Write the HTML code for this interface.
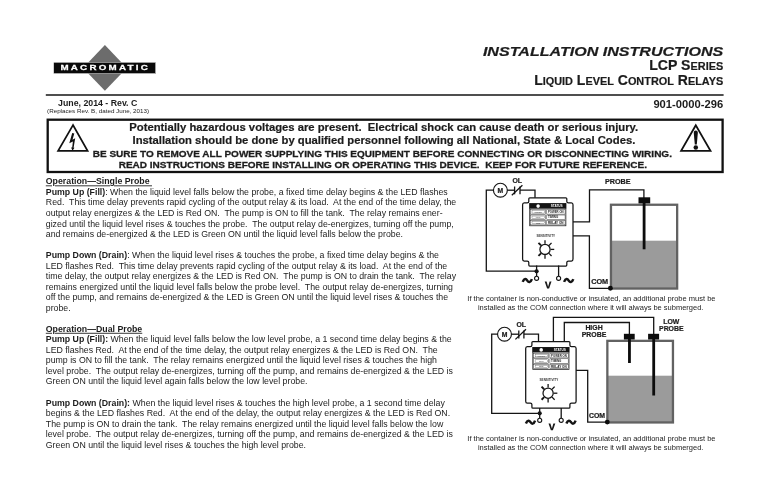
<!DOCTYPE html>
<html><head><meta charset="utf-8"><title>LCP Series Installation Instructions</title>
<style>
html,body{margin:0;padding:0;background:#fff;}
body{width:768px;height:497px;overflow:hidden;}
svg text{white-space:pre;}
svg{display:block;font-family:"Liberation Sans",sans-serif;filter:grayscale(1) blur(0.35px);}
</style></head><body>
<svg width="768" height="497" viewBox="0 0 768 497">
<rect x="0" y="0" width="768" height="497" fill="#fff"/>
<polygon points="104.9,45 126.8,67.9 104.9,90.8 83,67.9" fill="#6c6c6c"/>
<rect x="53.7" y="62.3" width="102" height="11.3" fill="#0a0a0a" stroke="#eee" stroke-width="0.5"/>
<g transform="translate(105.2,70.4) scale(1.286,1)"><text x="0" y="0" font-size="7.6" font-weight="bold" text-anchor="middle" fill="#fff" stroke="#fff" stroke-width="0.25" letter-spacing="1.75">MACROMATIC</text></g>
<rect x="45.8" y="94.1" width="677.8" height="1.8" fill="#3c3c3c"/>
<text x="723.2" y="56.0" font-size="12.7" font-weight="bold" text-anchor="end" fill="#1c1c1c" font-style="italic" textLength="240.3" lengthAdjust="spacingAndGlyphs" stroke="#1c1c1c" stroke-width="0.2">INSTALLATION INSTRUCTIONS</text>
<text x="723.2" y="70.0" font-size="14.1" font-weight="bold" text-anchor="end" fill="#1c1c1c" stroke="#1c1c1c" stroke-width="0.2">LCP S<tspan font-size="10.9">ERIES</tspan></text>
<text x="723.2" y="85.3" font-size="14.0" font-weight="bold" text-anchor="end" fill="#1c1c1c" stroke="#1c1c1c" stroke-width="0.2">L<tspan font-size="10.9">IQUID</tspan> L<tspan font-size="10.9">EVEL</tspan> C<tspan font-size="10.9">ONTROL</tspan> R<tspan font-size="10.9">ELAYS</tspan></text>
<text x="723.2" y="108.0" font-size="10.3" font-weight="bold" text-anchor="end" fill="#1c1c1c" textLength="69.8" lengthAdjust="spacingAndGlyphs" >901-0000-296</text>
<text x="97.7" y="106.45" font-size="8.78" font-weight="bold" text-anchor="middle" fill="#1c1c1c" >June, 2014 - Rev. C</text>
<text x="98.1" y="113.35" font-size="6.25" font-weight="normal" text-anchor="middle" fill="#1c1c1c" >(Replaces Rev. B, dated June, 2013)</text>
<rect x="47.7" y="119.7" width="674.9" height="52.3" fill="none" stroke="#111" stroke-width="2.3"/>
<polygon points="73.0,125.1 58.1,150.9 87.6,150.9" fill="none" stroke="#111" stroke-width="1.75" stroke-linejoin="miter"/>
<polygon points="72.2,132.9 74.3,133.5 72.5,139.8 75.2,138.2 73.6,147.7 74.5,147.8 72.5,150.7 71.1,147.4 72.2,147.6 72.9,141.5 69.3,143.2" fill="#111"/>
<polygon points="695.8,125.2 681.1,150.9 710.5,150.9" fill="none" stroke="#111" stroke-width="1.8"/>
<path d="M693.75,132.8 Q693.75,130.5 695.8,130.5 Q697.85,130.5 697.85,132.8 L696.8,144.4 L694.8,144.4 Z" fill="#111"/>
<circle cx="695.8" cy="147.5" r="2.25" fill="#111"/>
<text x="383.7" y="131.2" font-size="11.0" font-weight="bold" text-anchor="middle" fill="#1c1c1c" textLength="508.8" lengthAdjust="spacingAndGlyphs" xml:space="preserve" stroke="#1c1c1c" stroke-width="0.2">Potentially hazardous voltages are present.  Electrical shock can cause death or serious injury.</text>
<text x="383.9" y="143.7" font-size="11.0" font-weight="bold" text-anchor="middle" fill="#1c1c1c" textLength="502.8" lengthAdjust="spacingAndGlyphs" stroke="#1c1c1c" stroke-width="0.2">Installation should be done by qualified personnel following all National, State &amp; Local Codes.</text>
<text x="382.35" y="157.0" font-size="9.7" font-weight="bold" text-anchor="middle" fill="#1c1c1c" textLength="579.2" lengthAdjust="spacingAndGlyphs" stroke="#1c1c1c" stroke-width="0.28">BE SURE TO REMOVE ALL POWER SUPPLYING THIS EQUIPMENT BEFORE CONNECTING OR DISCONNECTING WIRING.</text>
<text x="382.85" y="167.9" font-size="9.7" font-weight="bold" text-anchor="middle" fill="#1c1c1c" textLength="528.4" lengthAdjust="spacingAndGlyphs" xml:space="preserve" stroke="#1c1c1c" stroke-width="0.28">READ INSTRUCTIONS BEFORE INSTALLING OR OPERATING THIS DEVICE.  KEEP FOR FUTURE REFERENCE.</text>
<text x="45.8" y="184.4" font-size="8.77" font-weight="normal" text-anchor="start" fill="#1c1c1c" xml:space="preserve"><tspan font-weight="bold" text-decoration="underline">Operation—Single Probe </tspan></text>
<text x="45.8" y="194.93" font-size="8.77" font-weight="normal" text-anchor="start" fill="#1c1c1c" xml:space="preserve"><tspan font-weight="bold">Pump Up (Fill)</tspan>: When the liquid level falls below the probe, a fixed time delay begins &amp; the LED flashes</text>
<text x="45.8" y="205.46" font-size="8.77" font-weight="normal" text-anchor="start" fill="#1c1c1c" xml:space="preserve">Red.  This time delay prevents rapid cycling of the output relay &amp; its load.  At the end of the time delay, the</text>
<text x="45.8" y="215.99" font-size="8.77" font-weight="normal" text-anchor="start" fill="#1c1c1c" xml:space="preserve">output relay energizes &amp; the LED is Red ON.  The pump is ON to fill the tank.  The relay remains ener-</text>
<text x="45.8" y="226.52" font-size="8.77" font-weight="normal" text-anchor="start" fill="#1c1c1c" xml:space="preserve">gized until the liquid level rises &amp; touches the probe.  The output relay de-energizes, turning off the pump,</text>
<text x="45.8" y="237.05" font-size="8.77" font-weight="normal" text-anchor="start" fill="#1c1c1c" xml:space="preserve">and remains de-energized &amp; the LED is Green ON until the liquid level falls below the probe.</text>
<text x="45.8" y="258.11" font-size="8.77" font-weight="normal" text-anchor="start" fill="#1c1c1c" xml:space="preserve"><tspan font-weight="bold">Pump Down (Drain)</tspan>: When the liquid level rises &amp; touches the probe, a fixed time delay begins &amp; the</text>
<text x="45.8" y="268.64" font-size="8.77" font-weight="normal" text-anchor="start" fill="#1c1c1c" xml:space="preserve">LED flashes Red.  This time delay prevents rapid cycling of the output relay &amp; its load.  At the end of the</text>
<text x="45.8" y="279.17" font-size="8.77" font-weight="normal" text-anchor="start" fill="#1c1c1c" xml:space="preserve">time delay, the output relay energizes &amp; the LED is Red ON.  The pump is ON to drain the tank.  The relay</text>
<text x="45.8" y="289.7" font-size="8.77" font-weight="normal" text-anchor="start" fill="#1c1c1c" xml:space="preserve">remains energized until the liquid level falls below the probe level.  The output relay de-energizes, turning</text>
<text x="45.8" y="300.23" font-size="8.77" font-weight="normal" text-anchor="start" fill="#1c1c1c" xml:space="preserve">off the pump, and remains de-energized &amp; the LED is Green ON until the liquid level rises &amp; touches the</text>
<text x="45.8" y="310.76" font-size="8.77" font-weight="normal" text-anchor="start" fill="#1c1c1c" xml:space="preserve">probe.</text>
<text x="45.8" y="331.82" font-size="8.77" font-weight="normal" text-anchor="start" fill="#1c1c1c" xml:space="preserve"><tspan font-weight="bold" text-decoration="underline">Operation—Dual Probe</tspan></text>
<text x="45.8" y="342.35" font-size="8.77" font-weight="normal" text-anchor="start" fill="#1c1c1c" xml:space="preserve"><tspan font-weight="bold">Pump Up (Fill):</tspan> When the liquid level falls below the low level probe, a 1 second time delay begins &amp; the</text>
<text x="45.8" y="352.88" font-size="8.77" font-weight="normal" text-anchor="start" fill="#1c1c1c" xml:space="preserve">LED flashes Red.  At the end of the time delay, the output relay energizes &amp; the LED is Red ON.  The</text>
<text x="45.8" y="363.41" font-size="8.77" font-weight="normal" text-anchor="start" fill="#1c1c1c" xml:space="preserve">pump is ON to fill the tank.  The relay remains energized until the liquid level rises &amp; touches the high</text>
<text x="45.8" y="373.94" font-size="8.77" font-weight="normal" text-anchor="start" fill="#1c1c1c" xml:space="preserve">level probe.  The output relay de-energizes, turning off the pump, and remains de-energized &amp; the LED is</text>
<text x="45.8" y="384.47" font-size="8.77" font-weight="normal" text-anchor="start" fill="#1c1c1c" xml:space="preserve">Green ON until the liquid level again falls below the low level probe.</text>
<text x="45.8" y="405.53" font-size="8.77" font-weight="normal" text-anchor="start" fill="#1c1c1c" xml:space="preserve"><tspan font-weight="bold">Pump Down (Drain):</tspan> When the liquid level rises &amp; touches the high level probe, a 1 second time delay</text>
<text x="45.8" y="416.06" font-size="8.77" font-weight="normal" text-anchor="start" fill="#1c1c1c" xml:space="preserve">begins &amp; the LED flashes Red.  At the end of the delay, the output relay energizes &amp; the LED is Red ON.</text>
<text x="45.8" y="426.59" font-size="8.77" font-weight="normal" text-anchor="start" fill="#1c1c1c" xml:space="preserve">The pump is ON to drain the tank.  The relay remains energized until the liquid level falls below the low</text>
<text x="45.8" y="437.12" font-size="8.77" font-weight="normal" text-anchor="start" fill="#1c1c1c" xml:space="preserve">level probe.  The output relay de-energizes, turning off the pump, and remains de-energized &amp; the LED is</text>
<text x="45.8" y="447.65" font-size="8.77" font-weight="normal" text-anchor="start" fill="#1c1c1c" xml:space="preserve">Green ON until the liquid level rises &amp; touches the high level probe.</text>
<text x="591.4" y="301.45" font-size="7.55" font-weight="normal" text-anchor="middle" fill="#1c1c1c" textLength="248.2" lengthAdjust="spacingAndGlyphs" >If the container is non-conductive or insulated, an additional probe must be</text>
<text x="590.65" y="310.35" font-size="7.55" font-weight="normal" text-anchor="middle" fill="#1c1c1c" textLength="225.5" lengthAdjust="spacingAndGlyphs" >installed as the COM connection where it will always be submerged.</text>
<text x="591.4" y="441.45" font-size="7.55" font-weight="normal" text-anchor="middle" fill="#1c1c1c" textLength="248.2" lengthAdjust="spacingAndGlyphs" >If the container is non-conductive or insulated, an additional probe must be</text>
<text x="590.65" y="450.35" font-size="7.55" font-weight="normal" text-anchor="middle" fill="#1c1c1c" textLength="225.5" lengthAdjust="spacingAndGlyphs" >installed as the COM connection where it will always be submerged.</text>
<polyline points="494,190.2 486.3,190.2 486.3,271.2 536.6,271.2" fill="none" stroke="#141414" stroke-width="1.3"/>
<polyline points="507,190.2 514.6,190.2" fill="none" stroke="#141414" stroke-width="1.3"/>
<polyline points="520,190.2 535,190.2 535,198" fill="none" stroke="#141414" stroke-width="1.3"/>
<line x1="514.6" y1="186.5" x2="514.6" y2="194.3" fill="none" stroke="#141414" stroke-width="1.3"/><line x1="520" y1="186.5" x2="520" y2="194.3" fill="none" stroke="#141414" stroke-width="1.3"/>
<line x1="522.4" y1="185.3" x2="511.8" y2="195.3" fill="none" stroke="#141414" stroke-width="1.3"/>
<text x="517.3" y="182.9" font-size="6.9" font-weight="bold" text-anchor="middle" fill="#1c1c1c" stroke="#1c1c1c" stroke-width="0.22">OL</text>
<circle cx="500.4" cy="190.2" r="6.95" fill="#fff" stroke="#141414" stroke-width="1.15"/>
<text x="500.4" y="192.65" font-size="6.8" font-weight="bold" text-anchor="middle" fill="#1c1c1c" stroke="#1c1c1c" stroke-width="0.22">M</text>
<polyline points="573,221.9 589.5,221.9 589.5,189.9 643.9,189.9 643.9,198" fill="none" stroke="#141414" stroke-width="1.3"/>
<polyline points="573,235.9 589.4,235.9 589.4,288.3 610.5,288.3" fill="none" stroke="#141414" stroke-width="1.3"/>
<path d="M529.80,197.80 H565.80 Q566.80,197.80 566.80,198.80 V201.40 Q566.80,202.80 568.40,202.80 H571.40 Q573.00,202.80 573.00,204.80 V259.00 Q573.00,261.00 571.40,261.00 H568.40 Q566.80,261.00 566.80,262.40 V265.00 Q566.80,266.00 565.80,266.00 H529.80 Q528.80,266.00 528.80,265.00 V262.40 Q528.80,261.00 527.20,261.00 H524.20 Q522.60,261.00 522.60,259.00 V204.80 Q522.60,202.80 524.20,202.80 H527.20 Q528.80,202.80 528.80,201.40 V198.80 Q528.80,197.80 529.80,197.80 Z" fill="#fff" stroke="#141414" stroke-width="1.25"/>
<rect x="529.7" y="203.6" width="36.2" height="22.2" fill="#fff" stroke="#141414" stroke-width="0.7"/>
<rect x="529.4" y="203.3" width="36.800000000000004" height="5.4" fill="#141414"/>
<circle cx="538.1" cy="206.1" r="1.8" fill="#fff"/>
<text x="562.7" y="207.3" font-size="3.0" font-weight="bold" text-anchor="end" fill="#fff" textLength="12" lengthAdjust="spacingAndGlyphs" >STATUS</text>
<rect x="530.6" y="209.6" width="15.0" height="4.5" fill="#fff" stroke="#1a1a1a" stroke-width="0.45"/>
<rect x="546.8" y="209.6" width="18.3" height="4.5" fill="#fff" stroke="#1a1a1a" stroke-width="0.45"/>
<rect x="532.0" y="210.65" width="12.2" height="2.4" fill="none" stroke="#2a2a2a" stroke-width="0.3"/>
<text x="538.1" y="212.7" font-size="2.1" font-weight="bold" text-anchor="middle" fill="#555" >GREEN</text>
<text x="548.0" y="212.9" font-size="2.8" font-weight="bold" text-anchor="start" fill="#1a1a1a" textLength="15.6" lengthAdjust="spacingAndGlyphs" >POWER ON</text>
<rect x="530.6" y="215.0" width="15.0" height="4.5" fill="#fff" stroke="#1a1a1a" stroke-width="0.45"/>
<rect x="546.8" y="215.0" width="18.3" height="4.5" fill="#fff" stroke="#1a1a1a" stroke-width="0.45"/>
<rect x="532.0" y="216.05" width="12.2" height="2.4" fill="none" stroke="#2a2a2a" stroke-width="0.3"/>
<text x="538.1" y="218.1" font-size="2.1" font-weight="bold" text-anchor="middle" fill="#555" >/\/\/\/\</text>
<text x="548.0" y="218.3" font-size="2.8" font-weight="bold" text-anchor="start" fill="#1a1a1a" textLength="10.2" lengthAdjust="spacingAndGlyphs" >TIMING</text>
<rect x="530.6" y="220.4" width="15.0" height="4.5" fill="#fff" stroke="#1a1a1a" stroke-width="0.45"/>
<rect x="546.8" y="220.4" width="18.3" height="4.5" fill="#fff" stroke="#1a1a1a" stroke-width="0.45"/>
<rect x="532.0" y="221.45" width="12.2" height="2.4" fill="none" stroke="#2a2a2a" stroke-width="0.3"/>
<text x="538.1" y="223.5" font-size="2.1" font-weight="bold" text-anchor="middle" fill="#555" >RED</text>
<text x="548.0" y="223.7" font-size="2.8" font-weight="bold" text-anchor="start" fill="#1a1a1a" textLength="15.6" lengthAdjust="spacingAndGlyphs" >RELAY ON</text>
<text x="545.8" y="237.2" font-size="2.7" font-weight="bold" text-anchor="middle" fill="#333" textLength="18.6" lengthAdjust="spacingAndGlyphs" >SENSITIVITY</text>
<circle cx="545.0" cy="249.4" r="5.1" fill="#fff" stroke="#141414" stroke-width="1.25"/>
<line x1="541.04" y1="245.44" x2="538.46" y2="242.86" stroke="#141414" stroke-width="1.9"/>
<line x1="545.00" y1="243.80" x2="545.00" y2="240.15" stroke="#141414" stroke-width="1.3"/>
<line x1="548.96" y1="245.44" x2="551.54" y2="242.86" stroke="#141414" stroke-width="1.3"/>
<line x1="550.60" y1="249.40" x2="554.25" y2="249.40" stroke="#141414" stroke-width="1.3"/>
<line x1="548.96" y1="253.36" x2="551.54" y2="255.94" stroke="#141414" stroke-width="1.3"/>
<line x1="545.00" y1="255.00" x2="545.00" y2="258.65" stroke="#141414" stroke-width="1.3"/>
<line x1="541.04" y1="253.36" x2="538.46" y2="255.94" stroke="#141414" stroke-width="1.9"/>
<line x1="536.6" y1="265.5" x2="536.6" y2="276.3" fill="none" stroke="#141414" stroke-width="1.3"/><line x1="558.6" y1="265.5" x2="558.6" y2="276.3" fill="none" stroke="#141414" stroke-width="1.3"/>
<circle cx="536.6" cy="271.3" r="2.1" fill="#141414"/>
<circle cx="536.6" cy="278.3" r="2.05" fill="#fff" stroke="#141414" stroke-width="1.1"/>
<circle cx="558.6" cy="278.3" r="2.05" fill="#fff" stroke="#141414" stroke-width="1.1"/>
<path d="M522.70,281.90 C524.30,278.00 526.10,278.70 527.30,280.60 S530.50,283.00 531.90,279.10" fill="none" stroke="#141414" stroke-width="2.5" stroke-linecap="butt"/>
<path d="M564.10,281.90 C565.70,278.00 567.50,278.70 568.70,280.60 S571.90,283.00 573.30,279.10" fill="none" stroke="#141414" stroke-width="2.5" stroke-linecap="butt"/>
<polygon points="544.70,281.5 546.60,281.5 548.10,286.70 549.60,281.5 551.50,281.5 549.10,288.6 547.10,288.6" fill="#1a1a1a"/>
<rect x="610.95" y="204.75" width="66.20" height="83.80" fill="#fff"/>
<rect x="610.95" y="240.70" width="66.20" height="47.85" fill="#9b9b9b"/>
<rect x="610.95" y="204.75" width="66.20" height="83.80" fill="none" stroke="#626262" stroke-width="2.3"/>
<rect x="638.5" y="197.3" width="11.7" height="6.1" fill="#0c0c0c"/>
<rect x="642.7" y="203" width="2.8" height="46.3" fill="#0c0c0c"/>
<circle cx="610.4" cy="288.3" r="2.45" fill="#0c0c0c"/>
<text x="599.7" y="283.8" font-size="7.3" font-weight="bold" text-anchor="middle" fill="#1c1c1c" stroke="#1c1c1c" stroke-width="0.22">COM</text>
<text x="617.7" y="184.0" font-size="7.2" font-weight="bold" text-anchor="middle" fill="#1c1c1c" stroke="#1c1c1c" stroke-width="0.22">PROBE</text>
<polyline points="498,334.2 491.7,334.2 491.7,413.3 539.7,413.3" fill="none" stroke="#141414" stroke-width="1.3"/>
<polyline points="511,334.2 518.8,334.2" fill="none" stroke="#141414" stroke-width="1.3"/>
<polyline points="523.9,334.2 538.5,334.2 538.5,342" fill="none" stroke="#141414" stroke-width="1.3"/>
<line x1="518.8" y1="330.4" x2="518.8" y2="338.6" fill="none" stroke="#141414" stroke-width="1.3"/><line x1="523.9" y1="330.4" x2="523.9" y2="338.6" fill="none" stroke="#141414" stroke-width="1.3"/>
<line x1="526" y1="329.2" x2="515.4" y2="339.4" fill="none" stroke="#141414" stroke-width="1.3"/>
<text x="521.2" y="327.3" font-size="6.9" font-weight="bold" text-anchor="middle" fill="#1c1c1c" stroke="#1c1c1c" stroke-width="0.22">OL</text>
<circle cx="504.5" cy="334.2" r="6.95" fill="#fff" stroke="#141414" stroke-width="1.15"/>
<text x="504.5" y="336.65" font-size="6.8" font-weight="bold" text-anchor="middle" fill="#1c1c1c" stroke="#1c1c1c" stroke-width="0.22">M</text>
<polyline points="553.4,342 553.4,317.4 653.7,317.4 653.7,334.2" fill="none" stroke="#141414" stroke-width="1.3"/>
<polyline points="564.3,342 564.3,322.5 629.4,322.5 629.4,334.2" fill="none" stroke="#141414" stroke-width="1.3"/>
<polyline points="575.6,370.4 587.7,370.4 587.7,422.1 607,422.1" fill="none" stroke="#141414" stroke-width="1.3"/>
<path d="M532.90,341.60 H568.90 Q569.90,341.60 569.90,342.60 V345.20 Q569.90,346.60 571.50,346.60 H574.50 Q576.10,346.60 576.10,348.60 V401.20 Q576.10,403.20 574.50,403.20 H571.50 Q569.90,403.20 569.90,404.60 V407.20 Q569.90,408.20 568.90,408.20 H532.90 Q531.90,408.20 531.90,407.20 V404.60 Q531.90,403.20 530.30,403.20 H527.30 Q525.70,403.20 525.70,401.20 V348.60 Q525.70,346.60 527.30,346.60 H530.30 Q531.90,346.60 531.90,345.20 V342.60 Q531.90,341.60 532.90,341.60 Z" fill="#fff" stroke="#141414" stroke-width="1.25"/>
<rect x="532.8" y="347.4" width="36.2" height="22.2" fill="#fff" stroke="#141414" stroke-width="0.7"/>
<rect x="532.5" y="347.1" width="36.800000000000004" height="5.4" fill="#141414"/>
<circle cx="541.2" cy="349.9" r="1.8" fill="#fff"/>
<text x="565.8" y="351.1" font-size="3.0" font-weight="bold" text-anchor="end" fill="#fff" textLength="12" lengthAdjust="spacingAndGlyphs" >STATUS</text>
<rect x="533.7" y="353.4" width="15.0" height="4.5" fill="#fff" stroke="#1a1a1a" stroke-width="0.45"/>
<rect x="549.9" y="353.4" width="18.3" height="4.5" fill="#fff" stroke="#1a1a1a" stroke-width="0.45"/>
<rect x="535.1" y="354.45" width="12.2" height="2.4" fill="none" stroke="#2a2a2a" stroke-width="0.3"/>
<text x="541.2" y="356.5" font-size="2.1" font-weight="bold" text-anchor="middle" fill="#555" >GREEN</text>
<text x="551.1" y="356.7" font-size="2.8" font-weight="bold" text-anchor="start" fill="#1a1a1a" textLength="15.6" lengthAdjust="spacingAndGlyphs" >POWER ON</text>
<rect x="533.7" y="358.8" width="15.0" height="4.5" fill="#fff" stroke="#1a1a1a" stroke-width="0.45"/>
<rect x="549.9" y="358.8" width="18.3" height="4.5" fill="#fff" stroke="#1a1a1a" stroke-width="0.45"/>
<rect x="535.1" y="359.85" width="12.2" height="2.4" fill="none" stroke="#2a2a2a" stroke-width="0.3"/>
<text x="541.2" y="361.9" font-size="2.1" font-weight="bold" text-anchor="middle" fill="#555" >/\/\/\/\</text>
<text x="551.1" y="362.1" font-size="2.8" font-weight="bold" text-anchor="start" fill="#1a1a1a" textLength="10.2" lengthAdjust="spacingAndGlyphs" >TIMING</text>
<rect x="533.7" y="364.2" width="15.0" height="4.5" fill="#fff" stroke="#1a1a1a" stroke-width="0.45"/>
<rect x="549.9" y="364.2" width="18.3" height="4.5" fill="#fff" stroke="#1a1a1a" stroke-width="0.45"/>
<rect x="535.1" y="365.25" width="12.2" height="2.4" fill="none" stroke="#2a2a2a" stroke-width="0.3"/>
<text x="541.2" y="367.3" font-size="2.1" font-weight="bold" text-anchor="middle" fill="#555" >RED</text>
<text x="551.1" y="367.5" font-size="2.8" font-weight="bold" text-anchor="start" fill="#1a1a1a" textLength="15.6" lengthAdjust="spacingAndGlyphs" >RELAY ON</text>
<text x="548.9" y="381.0" font-size="2.7" font-weight="bold" text-anchor="middle" fill="#333" textLength="18.6" lengthAdjust="spacingAndGlyphs" >SENSITIVITY</text>
<circle cx="548.1" cy="393.2" r="5.1" fill="#fff" stroke="#141414" stroke-width="1.25"/>
<line x1="544.14" y1="389.24" x2="541.56" y2="386.66" stroke="#141414" stroke-width="1.9"/>
<line x1="548.10" y1="387.60" x2="548.10" y2="383.95" stroke="#141414" stroke-width="1.3"/>
<line x1="552.06" y1="389.24" x2="554.64" y2="386.66" stroke="#141414" stroke-width="1.3"/>
<line x1="553.70" y1="393.20" x2="557.35" y2="393.20" stroke="#141414" stroke-width="1.3"/>
<line x1="552.06" y1="397.16" x2="554.64" y2="399.74" stroke="#141414" stroke-width="1.3"/>
<line x1="548.10" y1="398.80" x2="548.10" y2="402.45" stroke="#141414" stroke-width="1.3"/>
<line x1="544.14" y1="397.16" x2="541.56" y2="399.74" stroke="#141414" stroke-width="1.9"/>
<line x1="539.7" y1="408.1" x2="539.7" y2="418.3" fill="none" stroke="#141414" stroke-width="1.3"/><line x1="561.2" y1="408.1" x2="561.2" y2="418.3" fill="none" stroke="#141414" stroke-width="1.3"/>
<circle cx="539.7" cy="413.3" r="2.1" fill="#141414"/>
<circle cx="539.7" cy="420.3" r="2.05" fill="#fff" stroke="#141414" stroke-width="1.1"/>
<circle cx="561.2" cy="420.3" r="2.05" fill="#fff" stroke="#141414" stroke-width="1.1"/>
<path d="M525.90,423.50 C527.50,419.60 529.30,420.30 530.50,422.20 S533.70,424.60 535.10,420.70" fill="none" stroke="#141414" stroke-width="2.5" stroke-linecap="butt"/>
<path d="M566.40,423.50 C568.00,419.60 569.80,420.30 571.00,422.20 S574.20,424.60 575.60,420.70" fill="none" stroke="#141414" stroke-width="2.5" stroke-linecap="butt"/>
<polygon points="548.50,423.6 550.40,423.6 551.90,428.40 553.40,423.6 555.30,423.6 552.90,430.3 550.90,430.3" fill="#1a1a1a"/>
<rect x="607.35" y="340.85" width="65.60" height="81.60" fill="#fff"/>
<rect x="607.35" y="375.70" width="65.60" height="46.75" fill="#9b9b9b"/>
<rect x="607.35" y="340.85" width="65.60" height="81.60" fill="none" stroke="#626262" stroke-width="2.3"/>
<rect x="623.9" y="333.8" width="10.8" height="5.7" fill="#0c0c0c"/>
<rect x="648.1" y="333.8" width="11" height="5.7" fill="#0c0c0c"/>
<rect x="628.05" y="339" width="2.8" height="24.0" fill="#0c0c0c"/>
<rect x="652.3" y="339" width="2.8" height="56.5" fill="#0c0c0c"/>
<circle cx="607.3" cy="422.1" r="2.45" fill="#0c0c0c"/>
<text x="597.0" y="417.5" font-size="6.9" font-weight="bold" text-anchor="middle" fill="#1c1c1c" stroke="#1c1c1c" stroke-width="0.22">COM</text>
<text x="594.0" y="330.3" font-size="6.9" font-weight="bold" text-anchor="middle" fill="#1c1c1c" stroke="#1c1c1c" stroke-width="0.22">HIGH</text>
<text x="594.0" y="337.0" font-size="6.9" font-weight="bold" text-anchor="middle" fill="#1c1c1c" stroke="#1c1c1c" stroke-width="0.22">PROBE</text>
<text x="671.3" y="324.4" font-size="6.9" font-weight="bold" text-anchor="middle" fill="#1c1c1c" stroke="#1c1c1c" stroke-width="0.22">LOW</text>
<text x="671.3" y="331.0" font-size="6.9" font-weight="bold" text-anchor="middle" fill="#1c1c1c" stroke="#1c1c1c" stroke-width="0.22">PROBE</text>
</svg>
</body></html>
